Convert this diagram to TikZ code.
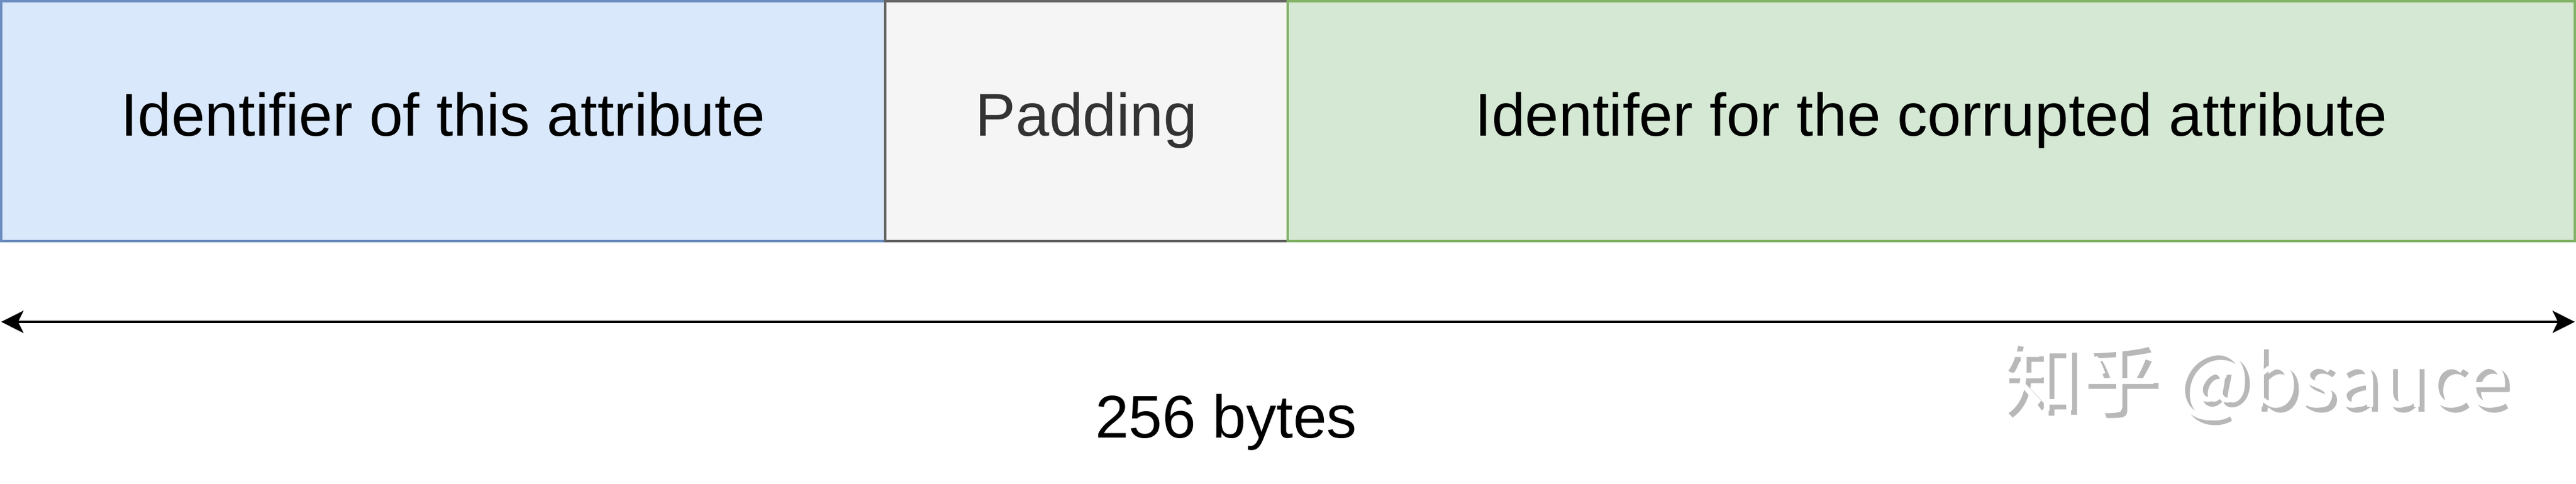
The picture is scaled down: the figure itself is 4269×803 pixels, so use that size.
\documentclass[tikz,border=0pt]{standalone}
\usepackage{fontspec}
\setmainfont{Liberation Sans}
\newfontfamily\cjk{Noto Sans CJK SC}
\usepackage{tikz}
\usetikzlibrary{positioning,arrows.meta}
\definecolor{identfill}{HTML}{DAE8FC}
\definecolor{identline}{HTML}{6C8EBF}
\definecolor{padfill}{HTML}{F5F5F5}
\definecolor{padline}{HTML}{666666}
\definecolor{padtext}{HTML}{333333}
\definecolor{corruptfill}{HTML}{D5E8D4}
\definecolor{corruptline}{HTML}{82B366}
\tikzstyle{field} = [rectangle, minimum height = 39.8pt, inner sep = 0pt, outer sep = 0pt, line width = 0.35pt, text height = 7.2pt, text depth = 2.2pt, font = \fontsize{10pt}{12pt}\selectfont]
\tikzstyle{caption} = [inner sep = 0pt, text height = 7.2pt, text depth = 0pt, font = \fontsize{10pt}{12pt}\selectfont]
\tikzstyle{span} = [line width = 0.32pt, {Stealth[length=3.7pt, width=3.7pt, inset=0.9pt]}-{Stealth[length=3.7pt, width=3.7pt, inset=0.9pt]}]
\tikzstyle{mark text} = [inner sep = 0pt, font = \cjk\fontsize{13pt}{15pt}\selectfont]

\begin{document}
\begin{tikzpicture}[x = 0.1pt, y = -0.1pt]
\useasboundingbox (0,0) rectangle (4269,803);

\node(ident) [field, fill = identfill, draw = identline, minimum width = 146.5pt] at (734.5,201) {Identifier of this attribute};
\node(pad) [field, fill = padfill, draw = padline, text = padtext, minimum width = 66.7pt, right = 0pt of ident] {Padding};
\node(corrupt) [field, fill = corruptfill, draw = corruptline, minimum width = 213.3pt, right = 0pt of pad] {Identifer for the corrupted attribute};

\coordinate(lend) at (2,534);
\coordinate(rend) at (4267,534);
\draw [span] (lend) -- (rend);

\node(size) [caption] at (2032,691) {256 bytes};

\node(markshadow) [mark text, text = black!28] at (3745,640) {知乎 @bsauce};
\node(mark) [mark text, text = white] at (3737,632) {知乎 @bsauce};

\end{tikzpicture}
\end{document}
